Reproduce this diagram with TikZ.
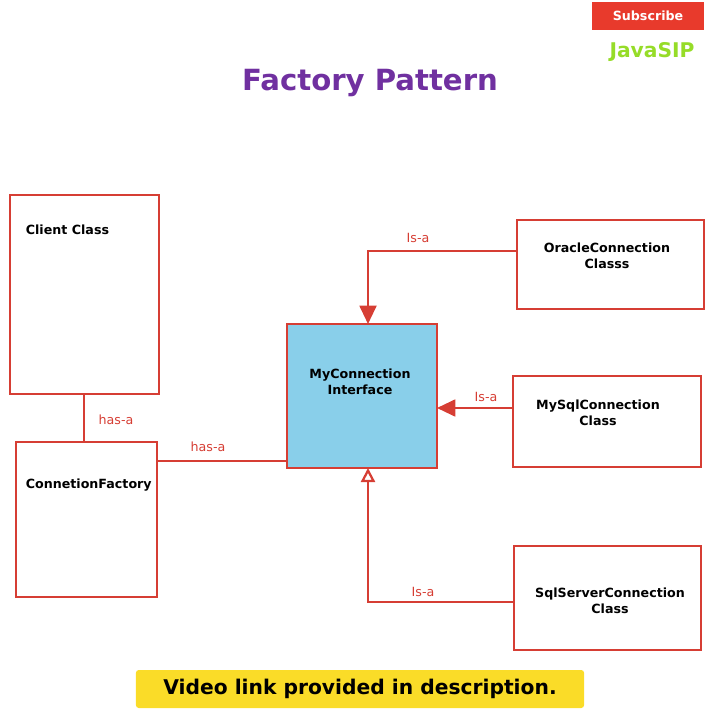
\documentclass[tikz,border=0pt]{standalone}
\usepackage{fontspec}
\setmainfont{DejaVu Sans}
\usepackage{tikz}
\usetikzlibrary{arrows.meta}
\definecolor{boxred}{RGB}{214,62,52}
\definecolor{ifcblue}{RGB}{137,207,234}
\definecolor{titlepurple}{RGB}{112,48,160}
\definecolor{subred}{RGB}{232,58,44}
\definecolor{javagreen}{RGB}{150,220,40}
\definecolor{noteyellow}{RGB}{250,220,40}

\begin{document}
\begin{tikzpicture}[x=0.025cm,y=-0.025cm,line width=1.6pt,draw=boxred]
    \tikzset{cls/.style={draw=boxred, line width=1.6pt},
             lbl/.style={text=boxred, font=\small},
             txt/.style={font=\small\bfseries, align=center}}
    \useasboundingbox (0,0) rectangle (720,720);

    % header
    \node[font=\bfseries\huge, text=titlepurple] (title) at (370,83) {Factory Pattern};
    \node[fill=subred, text=white, font=\bfseries\small, minimum width=2.8cm, minimum height=0.68cm, inner sep=0pt] (sub) at (648,16) {Subscribe};
    \node[text=javagreen, font=\bfseries\Large] (java) at (652,52) {JavaSIP};

    % classes
    \draw[cls] (10,195) rectangle (159,394);
    \node[txt, anchor=west] (client) at (20,230) {Client Class};
    \draw[cls] (16,442) rectangle (157,597);
    \node[txt, anchor=west] (factory) at (20,485) {ConnetionFactory};
    \draw[cls, fill=ifcblue] (287,324) rectangle (437,468);
    \node[txt] (ifc) at (360,382) {MyConnection\\Interface};
    \draw[cls] (517,220) rectangle (704,309);
    \node[txt] (oracle) at (607,256) {OracleConnection\\Classs};
    \draw[cls] (513,376) rectangle (701,467);
    \node[txt] (mysql) at (598,413) {MySqlConnection\\Class};
    \draw[cls] (514,546) rectangle (701,650);
    \node[txt] (sqlsrv) at (610,601) {SqlServerConnection\\Class};

    % relations
    \coordinate (c1) at (84,394);
    \coordinate (c2) at (84,442);
    \draw (c1) -- (c2);
    \node[lbl] at (116,420) {has-a};
    \coordinate (f1) at (157,461);
    \coordinate (i1) at (287,461);
    \draw (f1) -- (i1);
    \node[lbl] at (208,447) {has-a};

    \coordinate (o1) at (517,251);
    \coordinate (o2) at (368,251);
    \coordinate (i2) at (368,324);
    \draw[-{Triangle[length=13pt,width=12pt]}] (o1) -- (o2) -- (i2);
    \node[lbl] at (418,238) {Is-a};
    \coordinate (m1) at (513,408);
    \coordinate (i3) at (437,408);
    \draw[-{Triangle[length=13pt,width=12pt]}] (m1) -- (i3);
    \node[lbl] at (486,397) {Is-a};
    \coordinate (s1) at (514,602);
    \coordinate (s2) at (368,602);
    \coordinate (i4) at (368,468);
    \draw[-{Triangle[open,length=10pt,width=10pt]}] (s1) -- (s2) -- (i4);
    \node[lbl] at (423,592) {Is-a};

    % footer
    \node[fill=noteyellow, font=\bfseries\Large, minimum width=11.2cm, minimum height=0.95cm, rounded corners=2pt] (note) at (360,689) {Video link provided in description.};
\end{tikzpicture}
\end{document}
